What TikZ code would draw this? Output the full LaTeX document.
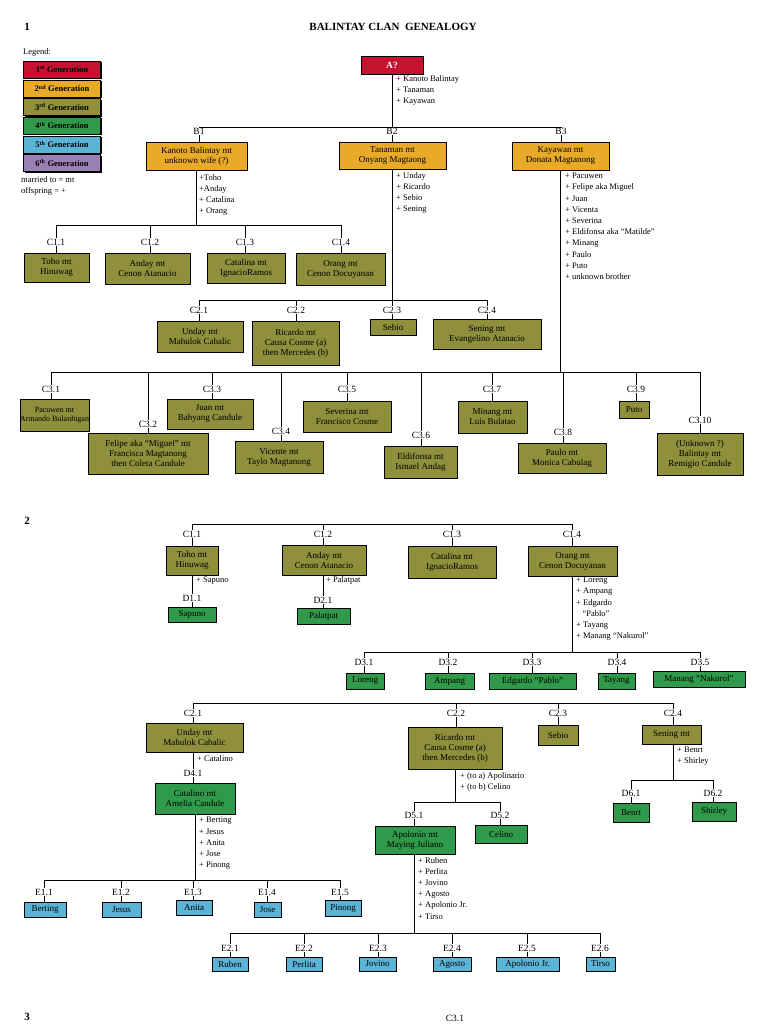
\documentclass[tikz,border=0pt]{standalone}
\usepackage{fontspec}
\setmainfont{Liberation Serif}
\usetikzlibrary{shadows}
\definecolor{g1}{HTML}{C41230}
\definecolor{g2}{HTML}{E8AA28}
\definecolor{g3}{HTML}{8F8F3C}
\definecolor{g4}{HTML}{2F9A4A}
\definecolor{g5}{HTML}{5BB3D6}
\definecolor{g6}{HTML}{9B80B3}
\newcommand{\bx}[7]{\node[gbox,#6, minimum width={#4-#2}, minimum height={#5-#3}] (#1) at ({(#2+#4)/2},{(#3+#5)/2+1}) {#7};}
\newcommand{\lb}[4]{\node[lbl] (#1) at (#2,#3) {#4};}
\newcommand{\kid}[3]{\draw[conn] (#2.north |- #1) -- (#2.north); \draw[conn] (#2.south) -- (#2.south |- #3.north);}
\newcommand{\lst}[3]{\node[lstn] at (#1,#2) {#3};}
\begin{document}
\begin{tikzpicture}[x=1pt,y=-1pt,
  gbox/.style={draw=black, line width=0.7pt, inner sep=0pt, align=center,
    font=\fontsize{9}{10}\selectfont,
    drop shadow={shadow xshift=1.2pt, shadow yshift=-1.2pt, fill=black, opacity=1}},
  lbl/.style={inner sep=0.5pt, font=\fontsize{9.5}{10}\selectfont},
  lstn/.style={anchor=north west, inner sep=0pt, align=left, font=\fontsize{8.5}{11.2}\selectfont},
  conn/.style={draw=black, line width=0.6pt},
  leg/.style={gbox, minimum width=77, minimum height=17, font=\fontsize{8.5}{9.5}\selectfont\bfseries}]
\useasboundingbox (0,0) rectangle (768,1024);
\fill[white] (0,0) rectangle (768,1024);
% titles
\node[font=\fontsize{11}{12}\selectfont\bfseries] (t1) at (27,27) {1};
\node[font=\fontsize{11}{12}\selectfont\bfseries] (title) at (393,27) {BALINTAY CLAN\ \ GENEALOGY};
\node[font=\fontsize{11}{12}\selectfont\bfseries] (t2) at (27,521) {2};
\node[font=\fontsize{11}{12}\selectfont\bfseries] (t3) at (27,1017) {3};
\node[lbl] (c31b) at (455,1018) {C3.1};
% legend
\node[lstn] (legt) at (23,48) {Legend:};
\node[leg,fill=g1] (l1) at (62,69.5) {1\textsuperscript{st} Generation};
\node[leg,fill=g2] (l2) at (62,88.5) {2\textsuperscript{nd} Generation};
\node[leg,fill=g3] (l3) at (62,107) {3\textsuperscript{rd} Generation};
\node[leg,fill=g4] (l4) at (62,125.5) {4\textsuperscript{th} Generation};
\node[leg,fill=g5] (l5) at (62,144.5) {5\textsuperscript{th} Generation};
\node[leg,fill=g6] (l6) at (62,163) {6\textsuperscript{th} Generation};
\node[lstn] (legm) at (21,176) {married to = mt\\offspring = +};
% ---- section 1
\bx{A}{361}{55}{423}{73}{fill=g1,font=\fontsize{9.5}{10}\selectfont\bfseries\color{white}}{A?}
\lst{396}{75}{+ Kanoto Balintay\\+ Tanaman\\+ Kayawan}
\coordinate (hA) at (0,127);
\draw[conn] (A.south) -- (A.south |- hA);
\draw[conn] (199,127) -- (561,127);
\lb{lB1}{199}{131}{B1}\lb{lB2}{392}{131}{B2}\lb{lB3}{561}{131}{B3}
\bx{B1}{146}{141}{247}{169}{fill=g2}{Kanoto Balintay mt\\unknown wife (?)}
\bx{B2}{339}{141}{446}{168}{fill=g2}{Tanaman mt\\Onyang Magtaong}
\bx{B3}{512}{141}{609}{169}{fill=g2}{Kayawan mt\\Donata Magtanong}
\kid{hA}{lB1}{B1}\kid{hA}{lB2}{B2}\kid{hA}{lB3}{B3}
% B1 children
\lst{199}{174}{+Toho\\+Anday\\+ Catalina\\+ Orang}
\coordinate (hB1) at (0,225);
\draw[conn] (B1.south) -- (B1.south |- hB1);
\draw[conn] (56,225) -- (341,225);
\lb{lC11}{56}{242}{C1.1}\lb{lC12}{150}{242}{C1.2}\lb{lC13}{245}{242}{C1.3}\lb{lC14}{341}{242}{C1.4}
\bx{C11}{24}{252}{89}{281}{fill=g3}{Toho mt\\Hinuwag}
\bx{C12}{105}{252}{190}{283}{fill=g3}{Anday mt\\Cenon Atanacio}
\bx{C13}{207}{252}{285}{282}{fill=g3}{Catalina mt\\IgnacioRamos}
\bx{C14}{296}{252}{385}{284}{fill=g3}{Orang mt\\Cenon Docuyanan}
\kid{hB1}{lC11}{C11}\kid{hB1}{lC12}{C12}\kid{hB1}{lC13}{C13}\kid{hB1}{lC14}{C14}
% B2 children
\lst{396}{172}{+ Unday\\+ Ricardo\\+ Sebio\\+ Sening}
\coordinate (hB2) at (0,300);
\draw[conn] (B2.south) -- (B2.south |- hB2);
\draw[conn] (199,300) -- (487,300);
\lb{lC21}{199}{310}{C2.1}\lb{lC22}{296}{310}{C2.2}\lb{lC23}{392}{310}{C2.3}\lb{lC24}{487}{310}{C2.4}
\bx{C21}{157}{320}{243}{351}{fill=g3}{Unday mt\\Mahulok Cabalic}
\bx{C22}{252}{320}{339}{364}{fill=g3}{Ricardo mt\\Causa Cosme (a)\\then Mercedes (b)}
\bx{C23}{370}{318}{416}{334}{fill=g3}{Sebio}
\bx{C24}{433}{318}{541}{348}{fill=g3}{Sening mt\\Evangelino Atanacio}
\kid{hB2}{lC21}{C21}\kid{hB2}{lC22}{C22}\kid{hB2}{lC23}{C23}\kid{hB2}{lC24}{C24}
% B3 children
\lst{565}{173}{+ Pacuwen\\+ Felipe aka Miguel\\+ Juan\\+ Vicenta\\+ Severina\\+ Eldifonsa aka “Matilde”\\+ Minang\\+ Paulo\\+ Puto\\+ unknown brother}
\coordinate (hB3) at (0,372);
\draw[conn] (B3.south) -- (B3.south |- hB3);
\draw[conn] (51,372) -- (700,372);
\lb{lC31}{51}{389}{C3.1}\lb{lC32}{148}{424}{C3.2}\lb{lC33}{212}{389}{C3.3}\lb{lC34}{281}{431}{C3.4}
\lb{lC35}{347}{389}{C3.5}\lb{lC36}{421}{435}{C3.6}\lb{lC37}{492}{389}{C3.7}\lb{lC38}{563}{432}{C3.8}
\lb{lC39}{636}{389}{C3.9}\lb{lC310}{700}{420}{C3.10}
\bx{C31}{24}{398}{85}{430}{fill=g3,font=\fontsize{8}{9.5}\selectfont}{Pacuwen mt\\Armando Bulanhigan}
\bx{C32}{88}{432}{208}{473}{fill=g3}{Felipe aka “Miguel” mt\\Francisca Magtanong\\then Coleta Candule}
\bx{C33}{167}{398}{253}{428}{fill=g3}{Juan mt\\Bahyang Candule}
\bx{C34}{235}{440}{323}{472}{fill=g3}{Vicente mt\\Taylo Magtanong}
\bx{C35}{303}{400}{391}{431}{fill=g3}{Severina mt\\Francisco Cosme}
\bx{C36}{384}{445}{457}{477}{fill=g3}{Eldifonsa mt\\Ismael Andag}
\bx{C37}{458}{400}{527}{432}{fill=g3}{Minang mt\\Luis Bulatao}
\bx{C38}{518}{442}{606}{472}{fill=g3}{Paulo mt\\Monica Cabulag}
\bx{C39}{619}{400}{649}{417}{fill=g3}{Puto}
\bx{C310}{657}{432}{743}{474}{fill=g3}{(Unknown ?)\\Balintay mt\\Remigio Candule}
\kid{hB3}{lC31}{C31}\kid{hB3}{lC32}{C32}\kid{hB3}{lC33}{C33}\kid{hB3}{lC34}{C34}\kid{hB3}{lC35}{C35}
\kid{hB3}{lC36}{C36}\kid{hB3}{lC37}{C37}\kid{hB3}{lC38}{C38}\kid{hB3}{lC39}{C39}\kid{hB3}{lC310}{C310}
% ---- section 2
\coordinate (h2a) at (0,524);
\draw[conn] (192,524) -- (572,524);
\lb{mC11}{192}{534}{C1.1}\lb{mC12}{323}{534}{C1.2}\lb{mC13}{452}{534}{C1.3}\lb{mC14}{572}{534}{C1.4}
\bx{D11p}{166}{545}{218}{574}{fill=g3}{Toho mt\\Hinuwag}
\bx{D21p}{282}{544}{366}{574}{fill=g3}{Anday mt\\Cenon Atanacio}
\bx{D31p}{408}{545}{496}{577}{fill=g3}{Catalina mt\\IgnacioRamos}
\bx{D41p}{528}{545}{617}{575}{fill=g3}{Orang mt\\Cenon Docuyanan}
\kid{h2a}{mC11}{D11p}\kid{h2a}{mC12}{D21p}\kid{h2a}{mC13}{D31p}\kid{h2a}{mC14}{D41p}
\lst{196}{577}{+ Sapuno}
\lb{lD11}{192}{598}{D1.1}
\bx{D11}{168}{606}{216}{621}{fill=g4}{Sapuno}
\draw[conn] (D11p.south -| lD11.north) -- (lD11.north); \draw[conn] (lD11.south) -- (lD11.south |- D11.north);
\lst{326}{576}{+ Palatpat}
\lb{lD21}{323}{600}{D2.1}
\bx{D21}{297}{607}{350}{623}{fill=g4}{Palatpat}
\draw[conn] (D21p.south -| lD21.north) -- (lD21.north); \draw[conn] (lD21.south) -- (lD21.south |- D21.north);
\lst{576}{577}{+ Loreng\\+ Ampang\\+ Edgardo\\\ \ \ “Pablo”\\+ Tayang\\+ Manang “Nakurol”}
\coordinate (h2b) at (0,652);
\draw[conn] (D41p.south) -- (D41p.south |- h2b);
\draw[conn] (364,652) -- (700,652);
\lb{lD31}{364}{662}{D3.1}\lb{lD32}{448}{662}{D3.2}\lb{lD33}{532}{662}{D3.3}\lb{lD34}{617}{662}{D3.4}\lb{lD35}{700}{662}{D3.5}
\bx{D31}{346}{672}{384}{688}{fill=g4}{Loreng}
\bx{D32}{425}{672}{474}{688}{fill=g4}{Ampang}
\bx{D33}{489}{672}{576}{688}{fill=g4}{Edgardo “Pablo”}
\bx{D34}{598}{672}{635}{688}{fill=g4}{Tayang}
\bx{D35}{653}{670}{745}{686}{fill=g4}{Manang “Nakurol”}
\kid{h2b}{lD31}{D31}\kid{h2b}{lD32}{D32}\kid{h2b}{lD33}{D33}\kid{h2b}{lD34}{D34}\kid{h2b}{lD35}{D35}
% C2 row
\coordinate (h2c) at (0,703);
\draw[conn] (193,703) -- (673,703);
\lb{mC21}{193}{713}{C2.1}\lb{mC22}{456}{713}{C2.2}\lb{mC23}{558}{713}{C2.3}\lb{mC24}{673}{713}{C2.4}
\bx{M21}{146}{722}{243}{751}{fill=g3}{Unday mt\\Mahulok Cabalic}
\bx{M22}{408}{726}{502}{768}{fill=g3}{Ricardo mt\\Causa Cosme (a)\\then Mercedes (b)}
\bx{M23}{538}{724}{578}{744}{fill=g3}{Sebio}
\bx{M24}{642}{724}{701}{743}{fill=g3}{Sening mt}
\kid{h2c}{mC21}{M21}\kid{h2c}{mC22}{M22}\kid{h2c}{mC23}{M23}\kid{h2c}{mC24}{M24}
% Unday line
\lst{197}{755}{+ Catalino}
\lb{lD41}{193}{773}{D4.1}
\bx{D41}{155}{782}{235}{813}{fill=g4}{Catalino mt\\Amelia Candule}
\draw[conn] (M21.south -| lD41.north) -- (lD41.north); \draw[conn] (lD41.south) -- (lD41.south |- D41.north);
\lst{199}{817}{+ Berting\\+ Jesus\\+ Anita\\+ Jose\\+ Pinong}
\coordinate (h2d) at (0,880);
\draw[conn] (D41.south) -- (D41.south |- h2d);
\draw[conn] (44,880) -- (340,880);
\lb{lE11}{44}{892}{E1.1}\lb{lE12}{121}{892}{E1.2}\lb{lE13}{193}{892}{E1.3}\lb{lE14}{267}{892}{E1.4}\lb{lE15}{340}{892}{E1.5}
\bx{E11}{24}{901}{66}{916}{fill=g5}{Berting}
\bx{E12}{102}{901}{141}{916}{fill=g5}{Jesus}
\bx{E13}{176}{899}{212}{914}{fill=g5}{Anita}
\bx{E14}{254}{901}{281}{916}{fill=g5}{Jose}
\bx{E15}{325}{899}{361}{915}{fill=g5}{Pinong}
\kid{h2d}{lE11}{E11}\kid{h2d}{lE12}{E12}\kid{h2d}{lE13}{E13}\kid{h2d}{lE14}{E14}\kid{h2d}{lE15}{E15}
% Ricardo line
\lst{460}{772}{+ (to a) Apolinario\\+ (to b) Celino}
\coordinate (h2e) at (0,802);
\draw[conn] (M22.south) -- (M22.south |- h2e);
\draw[conn] (414,802) -- (500,802);
\lb{lD51}{414}{815}{D5.1}\lb{lD52}{500}{815}{D5.2}
\bx{D51}{375}{825}{455}{853}{fill=g4}{Apolonio mt\\Maying Juliano}
\bx{D52}{475}{824}{527}{842}{fill=g4}{Celino}
\kid{h2e}{lD51}{D51}\kid{h2e}{lD52}{D52}
\lst{418}{857}{+ Ruben\\+ Perlita\\+ Jovino\\+ Agosto\\+ Apolonio Jr.\\+ Tirso}
\coordinate (h2f) at (0,933);
\draw[conn] (D51.south -| lD51.north) -- (lD51.north |- h2f);
\draw[conn] (230,933) -- (600,933);
\lb{lE21}{230}{948}{E2.1}\lb{lE22}{304}{948}{E2.2}\lb{lE23}{378}{948}{E2.3}\lb{lE24}{452}{948}{E2.4}\lb{lE25}{527}{948}{E2.5}\lb{lE26}{600}{948}{E2.6}
\bx{E21}{212}{956}{248}{970}{fill=g5}{Ruben}
\bx{E22}{286}{956}{322}{970}{fill=g5}{Perlita}
\bx{E23}{359}{956}{396}{970}{fill=g5}{Jovino}
\bx{E24}{433}{956}{471}{970}{fill=g5}{Agosto}
\bx{E25}{496}{956}{559}{970}{fill=g5}{Apolonio Jr.}
\bx{E26}{586}{956}{615}{970}{fill=g5}{Tirso}
\kid{h2f}{lE21}{E21}\kid{h2f}{lE22}{E22}\kid{h2f}{lE23}{E23}\kid{h2f}{lE24}{E24}\kid{h2f}{lE25}{E25}\kid{h2f}{lE26}{E26}
% Sening line
\lst{677}{747}{+ Benrt\\+ Shirley}
\coordinate (h2g) at (0,780);
\draw[conn] (M24.south -| mC24.north) -- (mC24.north |- h2g);
\draw[conn] (631,780) -- (713,780);
\lb{lD61}{631}{793}{D6.1}\lb{lD62}{713}{793}{D6.2}
\bx{D61}{613}{802}{649}{821}{fill=g4}{Benrt}
\bx{D62}{692}{801}{736}{820}{fill=g4}{Shirley}
\kid{h2g}{lD61}{D61}\kid{h2g}{lD62}{D62}
\end{tikzpicture}
\end{document}
